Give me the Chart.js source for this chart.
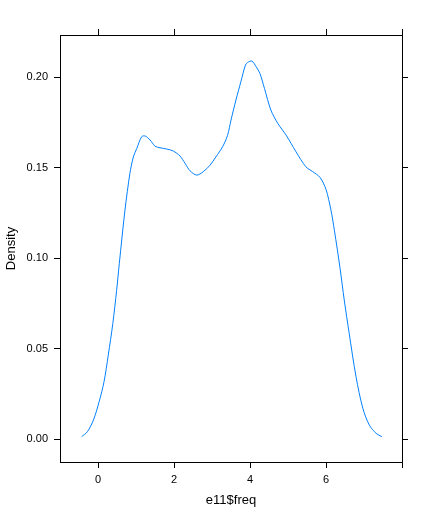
<!DOCTYPE html>
<html>
<head>
<meta charset="utf-8">
<script src="https://cdn.jsdelivr.net/npm/chart.js@4/dist/chart.umd.min.js"></script>
<style>
  html,body{margin:0;padding:0;background:#fff;}
  #wrap{width:432px;height:516px;position:relative;}
</style>
</head>
<body>
<div id="wrap"><canvas id="c"></canvas></div>
<script>
'use strict';
/* density curve */
const freq = [-0.43,-0.28,-0.12,0.03,0.16,0.27,0.39,0.49,0.56,0.71,0.84,0.93,1.02,1.15,1.24,1.37,1.5,1.63,1.81,1.98,
  2.16,2.29,2.42,2.6,2.77,2.95,3.1,3.28,3.41,3.5,3.63,3.76,3.88,3.94,4.05,4.16,4.26,4.38,4.55,4.73,
  4.95,5.21,5.47,5.65,5.84,6.0,6.13,6.22,6.37,6.48,6.61,6.79,6.97,7.14,7.32,7.47];
const density = [0.0015,0.0042,0.0107,0.0208,0.032,0.0465,0.064,0.0823,0.097,0.1267,0.147,0.156,0.1607,0.1672,0.1676,0.1654,0.162,0.1611,0.1604,0.1593,
  0.1565,0.1525,0.1484,0.146,0.1479,0.1515,0.156,0.1617,0.168,0.1764,0.1875,0.1976,0.2068,0.2083,0.209,0.2059,0.2022,0.1939,0.1819,0.1746,
  0.1681,0.1589,0.1506,0.1479,0.1448,0.1381,0.1267,0.1156,0.0945,0.077,0.0586,0.0346,0.0171,0.0079,0.0033,0.0015];
const xTicks = [0,2,4,6,8];
const yTicks = [0,0.05,0.10,0.15,0.20];
const xLim = [-1, 8];
const yLim = [-0.0125, 0.2234];

const tickFont = {family:'"Liberation Sans", Arial, sans-serif', size:11};
const titleFont = {family:'"Liberation Sans", Arial, sans-serif', size:13};
const gridOpts = {display:true, drawOnChartArea:false, drawTicks:true, tickLength:6, color:'#000', lineWidth:1};
const borderOpts = {display:true, color:'#000', width:1};

const pts = freq.map((x,i)=>({x, y:density[i]}));

function fixTicks(vals){ return s => { s.ticks = vals.map(v=>({value:v})); }; }

new Chart(document.getElementById('c'), {
  type:'line',
  data:{datasets:[{data:pts, borderColor:'#0080ff', borderWidth:1, pointRadius:0, fill:false, tension:0.3}]},
  options:{
    responsive:true, maintainAspectRatio:false, animation:false,
    layout:{padding:0},
    plugins:{legend:{display:false}, tooltip:{enabled:false}},
    scales:{
      x:{type:'linear', position:'bottom', min:xLim[0], max:xLim[1],
        afterBuildTicks:fixTicks(xTicks),
        afterFit:s=>{s.height=54;},
        grid:gridOpts, border:borderOpts,
        ticks:{color:'#000', font:tickFont, padding:5, maxRotation:0, autoSkip:false,
          callback:v=> v===8 ? '' : String(v)},
        title:{display:true, text:'e11$freq', color:'#000', font:titleFont, padding:{top:0,bottom:8}}
      },
      x2:{type:'linear', position:'top', min:xLim[0], max:xLim[1],
        afterBuildTicks:fixTicks(xTicks),
        afterFit:s=>{s.height=35;},
        grid:gridOpts, border:borderOpts,
        ticks:{display:true, color:'rgba(0,0,0,0)', font:tickFont, padding:0, maxRotation:0, autoSkip:false, callback:()=>''}
      },
      y:{type:'linear', position:'left', min:yLim[0], max:yLim[1],
        afterBuildTicks:fixTicks(yTicks),
        afterFit:s=>{s.width=60;},
        grid:gridOpts, border:borderOpts,
        ticks:{color:'#000', font:tickFont, padding:6, autoSkip:false, callback:v=>v.toFixed(2)},
        title:{display:true, text:'Density', color:'#000', font:titleFont, padding:{top:4,bottom:0}}
      },
      y2:{type:'linear', position:'right', min:yLim[0], max:yLim[1],
        afterBuildTicks:fixTicks(yTicks),
        afterFit:s=>{s.width=30;},
        grid:gridOpts, border:borderOpts,
        ticks:{display:true, color:'rgba(0,0,0,0)', font:tickFont, padding:0, autoSkip:false, callback:()=>''}
      }
    }
  }
});
</script>
</body>
</html>
